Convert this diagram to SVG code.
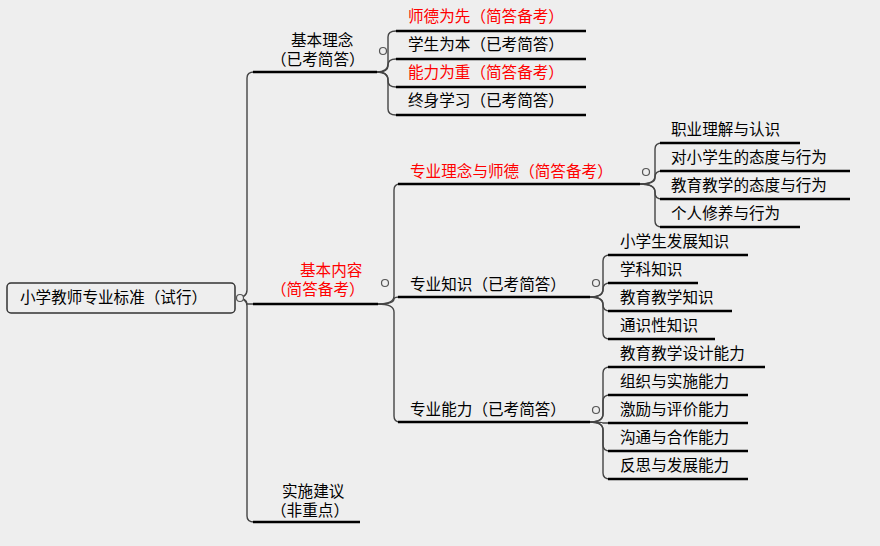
<svg xmlns="http://www.w3.org/2000/svg" width="880" height="546" viewBox="0 0 880 546">
<style>
text{font-family:"Noto Sans CJK SC","Liberation Sans",sans-serif;font-size:15.6px;fill:#000}
.r{fill:#f00}
.u{stroke:#000;stroke-width:2.5;fill:none}
.c{stroke:#444;stroke-width:1.4;fill:none}
.k{fill:#eee;stroke:#555;stroke-width:1.2}
</style>
<rect width="880" height="546" fill="#eeeeee"/>
<g id="connectors">
<path class="c" d="M236,298 Q247,298 247,290 L247,78 Q247,72 254,72"/>
<path class="c" d="M236,298 Q247,298 247,304 L254,304"/>
<path class="c" d="M236,298 Q247,298 247,306 L247,516 Q247,522 254,522"/>
<path class="c" d="M377,72 Q388,72 388,64 L388,37 Q388,31 396,31"/>
<path class="c" d="M377,72 Q388,72 388,66 L388,65 Q388,59 396,59"/>
<path class="c" d="M377,72 Q388,72 388,80 L388,81 Q388,87 396,87"/>
<path class="c" d="M377,72 Q388,72 388,80 L388,109 Q388,115 396,115"/>
<path class="c" d="M378,304 Q394,304 394,296 L394,190 Q394,184 400,184"/>
<path class="c" d="M378,304 Q394,304 394,299 Q394,297 400,297"/>
<path class="c" d="M378,304 Q394,304 394,312 L394,416 Q394,422 400,422"/>
<path class="c" d="M640,184 Q655,184 655,176 L655,149 Q655,143 662,143"/>
<path class="c" d="M640,184 Q655,184 655,178 L655,177 Q655,171 662,171"/>
<path class="c" d="M640,184 Q655,184 655,192 L655,193 Q655,199 662,199"/>
<path class="c" d="M640,184 Q655,184 655,192 L655,221 Q655,227 662,227"/>
<path class="c" d="M590,297 Q603,297 603,289 L603,261 Q603,255 610,255"/>
<path class="c" d="M590,297 Q603,297 603,290 L603,289 Q603,283 610,283"/>
<path class="c" d="M590,297 Q603,297 603,304 L603,305 Q603,311 610,311"/>
<path class="c" d="M590,297 Q603,297 603,305 L603,333 Q603,339 610,339"/>
<path class="c" d="M590,422 Q603,422 603,414 L603,373 Q603,367 610,367"/>
<path class="c" d="M590,422 Q603,422 603,414 L603,401 Q603,395 610,395"/>
<path class="c" d="M590,422 Q603,422 603,423 L610,423"/>
<path class="c" d="M590,422 Q603,422 603,430 L603,445 Q603,451 610,451"/>
<path class="c" d="M590,422 Q603,422 603,430 L603,473 Q603,479 610,479"/>
</g>
<g id="root">
<rect x="7" y="283" width="228" height="30" rx="4" fill="#eee" stroke="#333" stroke-width="1.5"/>
<text x="20" y="303">小学教师专业标准（试行）</text>
<circle class="k" cx="240" cy="298" r="3.5"/>
</g>
<g id="n-jbln">
<text x="291" y="46">基本理念<tspan x="271" y="65">（已考简答）</tspan></text>
<line class="u" x1="253" y1="72" x2="377" y2="72"/>
<circle class="k" cx="383" cy="51" r="3.5"/>
</g>
<g id="n-jbnr">
<text class="r" x="300" y="276">基本内容<tspan x="271" y="295">（简答备考）</tspan></text>
<line class="u" x1="253" y1="304" x2="378" y2="304"/>
<circle class="k" cx="385" cy="283" r="3.5"/>
</g>
<g id="n-ssjy">
<text x="282" y="497">实施建议<tspan x="271" y="516">（非重点）</tspan></text>
<line class="u" x1="253" y1="522" x2="360" y2="522"/>
</g>
<g id="n-ln1"><text class="r" x="408" y="22">师德为先（简答备考）</text><line class="u" x1="396" y1="31" x2="586" y2="31"/></g>
<g id="n-ln2"><text x="408" y="50">学生为本（已考简答）</text><line class="u" x1="396" y1="59" x2="586" y2="59"/></g>
<g id="n-ln3"><text class="r" x="408" y="78">能力为重（简答备考）</text><line class="u" x1="396" y1="87" x2="586" y2="87"/></g>
<g id="n-ln4"><text x="408" y="106">终身学习（已考简答）</text><line class="u" x1="396" y1="115" x2="586" y2="115"/></g>
<g id="n-zyln">
<text class="r" x="410" y="177">专业理念与师德（简答备考）</text>
<line class="u" x1="398" y1="184" x2="640" y2="184"/>
<circle class="k" cx="646" cy="172" r="3.5"/>
</g>
<g id="n-zyzs">
<text x="410" y="290">专业知识（已考简答）</text>
<line class="u" x1="398" y1="297" x2="590" y2="297"/>
<circle class="k" cx="596" cy="283" r="3.5"/>
</g>
<g id="n-zynl">
<text x="410" y="415">专业能力（已考简答）</text>
<line class="u" x1="398" y1="422" x2="590" y2="422"/>
<circle class="k" cx="596" cy="410" r="3.5"/>
</g>
<g id="n-a1"><text x="671" y="135">职业理解与认识</text><line class="u" x1="660" y1="143" x2="800" y2="143"/></g>
<g id="n-a2"><text x="671" y="163">对小学生的态度与行为</text><line class="u" x1="660" y1="171" x2="850" y2="171"/></g>
<g id="n-a3"><text x="671" y="191">教育教学的态度与行为</text><line class="u" x1="660" y1="199" x2="850" y2="199"/></g>
<g id="n-a4"><text x="671" y="219">个人修养与行为</text><line class="u" x1="660" y1="227" x2="800" y2="227"/></g>
<g id="n-b1"><text x="620" y="247">小学生发展知识</text><line class="u" x1="608" y1="255" x2="748" y2="255"/></g>
<g id="n-b2"><text x="620" y="275">学科知识</text><line class="u" x1="608" y1="283" x2="698" y2="283"/></g>
<g id="n-b3"><text x="620" y="303">教育教学知识</text><line class="u" x1="608" y1="311" x2="732" y2="311"/></g>
<g id="n-b4"><text x="620" y="331">通识性知识</text><line class="u" x1="608" y1="339" x2="715" y2="339"/></g>
<g id="n-c1"><text x="620" y="359">教育教学设计能力</text><line class="u" x1="608" y1="367" x2="765" y2="367"/></g>
<g id="n-c2"><text x="620" y="387">组织与实施能力</text><line class="u" x1="608" y1="395" x2="748" y2="395"/></g>
<g id="n-c3"><text x="620" y="415">激励与评价能力</text><line class="u" x1="608" y1="423" x2="748" y2="423"/></g>
<g id="n-c4"><text x="620" y="443">沟通与合作能力</text><line class="u" x1="608" y1="451" x2="748" y2="451"/></g>
<g id="n-c5"><text x="620" y="471">反思与发展能力</text><line class="u" x1="608" y1="479" x2="748" y2="479"/></g>
</svg>
